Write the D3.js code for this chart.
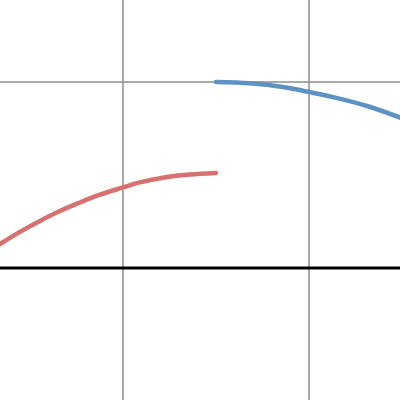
<!DOCTYPE html>
<html>
<head>
<meta charset="utf-8">
<script src="https://cdn.jsdelivr.net/npm/d3@7"></script>
<style>
  html, body { margin: 0; padding: 0; background: #fff; }
  svg { display: block; }
</style>
</head>
<body>
<div id="chart"></div>
<script>
// values (graph units)
const redX = [0.339, 0.446, 0.554, 0.661, 0.769, 0.876, 1.0, 1.091, 1.237, 1.360, 1.5];
const redY = [0.129, 0.194, 0.253, 0.306, 0.352, 0.394, 0.433, 0.460, 0.489, 0.503, 0.511];
const blueX = [1.5, 1.683, 1.860, 2.0, 2.129, 2.312, 2.489];
const blueY = [1.0, 0.993, 0.973, 0.946, 0.919, 0.871, 0.809];
const gridX = [1, 2];
const gridY = [1];

const width = 400, height = 400;

const x = d3.scaleLinear().domain([0.339, 2.489]).range([0, width]);
const y = d3.scaleLinear().domain([-0.710, 1.441]).range([height, 0]);

const svg = d3.select("#chart")
    .append("svg")
    .attr("width", width)
    .attr("height", height);

//Grid
svg.append("g")
    .selectAll("line")
    .data(gridX)
    .enter()
    .append("line")
    .attr("x1", d => x(d))
    .attr("x2", d => x(d))
    .attr("y1", 0)
    .attr("y2", height)
    .attr("stroke", "#8c8c8c")
    .attr("stroke-width", 1.5);

svg.append("g")
    .selectAll("line")
    .data(gridY)
    .enter()
    .append("line")
    .attr("x1", 0)
    .attr("x2", width)
    .attr("y1", d => y(d))
    .attr("y2", d => y(d))
    .attr("stroke", "#8c8c8c")
    .attr("stroke-width", 1.5);

//X axis
svg.append("line")
    .attr("x1", 0)
    .attr("x2", width)
    .attr("y1", y(0))
    .attr("y2", y(0))
    .attr("stroke", "#000")
    .attr("stroke-width", 3);

const line = d3.line()
    .x(d => x(d[0]))
    .y(d => y(d[1]))
    .curve(d3.curveNatural);

svg.append("path")
    .datum(d3.zip(redX, redY))
    .attr("fill", "none")
    .attr("stroke", "#d8706d")
    .attr("stroke-width", 4.5)
    .attr("stroke-linecap", "round")
    .attr("d", line);

svg.append("path")
    .datum(d3.zip(blueX, blueY))
    .attr("fill", "none")
    .attr("stroke", "#5e92c5")
    .attr("stroke-width", 4.5)
    .attr("stroke-linecap", "round")
    .attr("d", line);
</script>
</body>
</html>
